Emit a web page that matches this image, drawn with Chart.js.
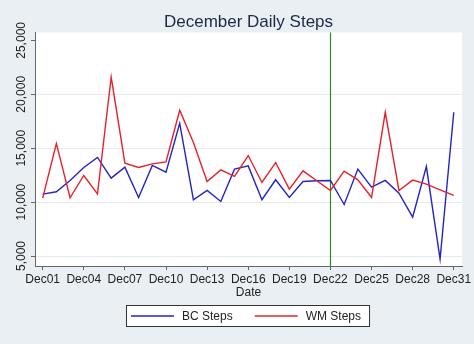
<!DOCTYPE html>
<html>
<head>
<meta charset="utf-8">
<script src="https://cdn.jsdelivr.net/npm/chart.js@4/dist/chart.umd.min.js"></script>
<style>
  html, body { margin: 0; padding: 0; background: #e9eff2; }
  #wrap { width: 474px; height: 344px; }
</style>
</head>
<body>
<div id="wrap"><canvas id="stepsChart" width="474" height="344"></canvas></div>
<script>
// December dates, one per day
const days = ['Dec01','Dec02','Dec03','Dec04','Dec05','Dec06','Dec07','Dec08','Dec09','Dec10',
  'Dec11','Dec12','Dec13','Dec14','Dec15','Dec16','Dec17','Dec18','Dec19','Dec20',
  'Dec21','Dec22','Dec23','Dec24','Dec25','Dec26','Dec27','Dec28','Dec29','Dec30','Dec31'];

const bcSteps = [10740, 10960, 12000, 13210, 14140, 12220, 13240, 10430, 13400, 12780,
  17310, 10220, 11080, 10060, 13060, 13360, 10220, 12070, 10430, 11910,
  11980, 12010, 9780, 13060, 11390, 12010, 10830, 8610, 13300, 4720, 18330];

const wmSteps = [10370, 15430, 10400, 12470, 10770, 21600, 13610, 13210, 13550, 13730,
  18520, 15520, 11910, 12990, 12380, 14320, 11820, 13670, 11200, 12900,
  11980, 11080, 12870, 12070, 10430, 18330, 11080, 12040, 11670, 11140, 10620];

const xTickDays = ['Dec01','Dec04','Dec07','Dec10','Dec13','Dec16','Dec19','Dec22','Dec25','Dec28','Dec31'];
const yTicks = [5000, 10000, 15000, 20000, 25000];
const markerDay = 'Dec22';

const seriesNames = ['BC Steps', 'WM Steps'];
const seriesColors = ['#2323c8', '#e8202a'];

const FONT = '"Liberation Sans", Arial, sans-serif';
const toPoints = arr => arr.map((v, i) => ({ x: i, y: v }));
const fmt = v => v.toLocaleString('en-US');

// white plot region, vertical marker, rotated y labels, boxed legend
const extras = {
  id: 'extras',
  beforeDraw(chart) {
    const { ctx, chartArea: a } = chart;
    ctx.save();
    ctx.fillStyle = '#ffffff';
    ctx.fillRect(a.left, a.top, a.right - a.left, a.bottom - a.top);
    ctx.restore();
  },
  beforeDatasetsDraw(chart) {
    const { ctx, chartArea: a, scales } = chart;
    const x = Math.round(scales.x.getPixelForValue(days.indexOf(markerDay))) + 0.5;
    ctx.save();
    ctx.strokeStyle = '#2a8a2a';
    ctx.lineWidth = 1.2;
    ctx.beginPath();
    ctx.moveTo(x, a.top);
    ctx.lineTo(x, a.bottom);
    ctx.stroke();
    ctx.restore();
  },
  afterDraw(chart) {
    const { ctx, scales, chartArea: a } = chart;
    ctx.save();
    // y tick labels, turned 90 degrees
    ctx.fillStyle = '#222';
    ctx.font = '12px ' + FONT;
    ctx.textAlign = 'center';
    ctx.textBaseline = 'middle';
    yTicks.forEach(v => {
      const y = scales.y.getPixelForValue(v);
      ctx.save();
      ctx.translate(22, y);
      ctx.rotate(-Math.PI / 2);
      ctx.fillText(fmt(v), 0, 0);
      ctx.restore();
    });

    // legend, centred under the plot region
    const lineLen = 43, gap = 8, spacing = 22, padL = 5, padR = 9;
    ctx.textAlign = 'left';
    const widths = chart.data.datasets.map(d => lineLen + gap + ctx.measureText(d.label).width);
    const total = widths.reduce((s, w) => s + w, 0) + spacing * (widths.length - 1);
    const boxW = total + padL + padR;
    let x = Math.round((a.left + a.right - boxW) / 2) + padL;
    const cy = 316;
    ctx.fillStyle = '#ffffff';
    ctx.fillRect(x - padL, 305, boxW, 22);
    ctx.strokeStyle = '#333';
    ctx.lineWidth = 1;
    ctx.strokeRect(x - padL + 0.5, 305.5, boxW - 1, 21);
    chart.data.datasets.forEach((d, i) => {
      ctx.strokeStyle = d.borderColor;
      ctx.lineWidth = 1.3;
      ctx.beginPath();
      ctx.moveTo(x, cy);
      ctx.lineTo(x + lineLen, cy);
      ctx.stroke();
      ctx.fillStyle = '#222';
      ctx.fillText(d.label, x + lineLen + gap, cy + 0.5);
      x += widths[i] + spacing;
    });
    ctx.restore();
  }
};

new Chart(document.getElementById('stepsChart'), {
  type: 'line',
  data: {
    datasets: [
      { label: seriesNames[0], data: toPoints(bcSteps), borderColor: seriesColors[0], borderWidth: 1.4, pointRadius: 0, tension: 0, order: 1 },
      { label: seriesNames[1], data: toPoints(wmSteps), borderColor: seriesColors[1], borderWidth: 1.4, pointRadius: 0, tension: 0, order: 0 }
    ]
  },
  options: {
    responsive: false,
    animation: false,
    layout: { padding: { left: 35, right: 12, top: 0, bottom: 42 } },
    plugins: {
      legend: { display: false },
      tooltip: { enabled: false },
      title: {
        display: true,
        text: 'December Daily Steps',
        color: '#1c2a48',
        font: { family: FONT, size: 17, weight: 'normal' },
        padding: { top: 12, bottom: 0 }
      }
    },
    scales: {
      x: {
        type: 'linear',
        min: -0.56,
        max: 30.6,
        afterBuildTicks: s => { s.ticks = xTickDays.map(d => ({ value: days.indexOf(d) })); },
        afterFit: s => { s.height = 36; },
        ticks: {
          autoSkip: false,
          maxRotation: 0,
          padding: 2,
          color: '#222',
          font: { family: FONT, size: 12 },
          callback: v => days[v]
        },
        grid: { drawOnChartArea: false, tickLength: 4, tickColor: '#666' },
        border: { color: '#666', width: 1 },
        title: {
          display: true,
          text: 'Date',
          color: '#222',
          font: { family: FONT, size: 12 },
          padding: { top: 0, bottom: 2 }
        }
      },
      y: {
        min: 4074,
        max: 25740,
        afterBuildTicks: s => { s.ticks = yTicks.map(v => ({ value: v })); },
        afterFit: s => { s.width = 0; },
        ticks: { display: false },
        grid: {
          tickLength: 4,
          tickColor: '#666',
          color: c => (c.tick && c.tick.value === 25000) ? 'rgba(0,0,0,0)' : '#e6eaec',
          lineWidth: 1
        },
        border: { color: '#666', width: 1 }
      }
    }
  },
  plugins: [extras]
});
</script>
</body>
</html>
